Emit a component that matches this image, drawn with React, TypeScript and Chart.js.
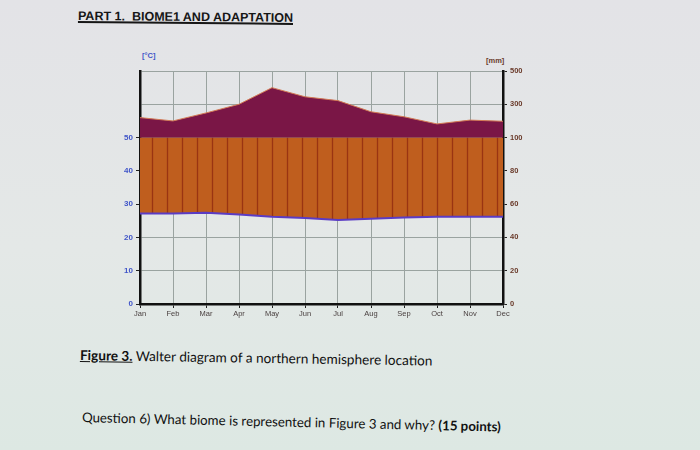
import React, { useEffect, useRef } from "react";
import { Chart, registerables } from "chart.js";

Chart.register(...registerables);

const months = ["Jan", "Feb", "Mar", "Apr", "May", "Jun", "Jul", "Aug", "Sep", "Oct", "Nov", "Dec"];
const temperatureC = [27.2, 27.2, 27.4, 26.9, 26.2, 25.8, 25.2, 25.6, 26.0, 26.2, 26.2, 26.2];
const precipitationMm = [220, 200, 248, 300, 400, 345, 322, 255, 225, 182, 205, 198];
const leftTickMax = 50;

// Walter scale: 10 °C = 20 mm up to 100 mm, above that 10 units = 200 mm
const mmToUnits = (mm: number) => (mm <= 100 ? mm / 2 : 50 + (mm - 100) / 20);
const unitsToMm = (u: number) => (u <= 50 ? u * 2 : 100 + (u - 50) * 20);

export default function App() {
  const ref = useRef<HTMLCanvasElement | null>(null);

  useEffect(() => {
    if (!ref.current) return;
    const pc = document.createElement("canvas");
    pc.width = 15;
    pc.height = 4;
    const pctx = pc.getContext("2d")!;
    pctx.fillStyle = "#bf5e1e";
    pctx.fillRect(0, 0, 15, 4);
    pctx.strokeStyle = "#9a3412";
    pctx.lineWidth = 1.3;
    pctx.beginPath();
    pctx.moveTo(7.5, 0);
    pctx.lineTo(7.5, 4);
    pctx.stroke();
    const ctx = ref.current.getContext("2d")!;
    const pattern = ctx.createPattern(pc, "repeat")!;

    const units = precipitationMm.map(mmToUnits);
    const capped = units.map((u) => Math.min(u, 50));

    const chart = new Chart(ref.current, {
      type: "line",
      data: {
        labels: months,
        datasets: [
          {
            data: temperatureC,
            borderColor: "#5a3cc4",
            borderWidth: 2,
            pointRadius: 0,
            fill: false,
            order: 0,
          },
          {
            data: capped,
            borderWidth: 0,
            borderColor: "rgba(0,0,0,0)",
            pointRadius: 0,
            fill: { target: 0, above: pattern, below: "rgba(0,0,0,0)" } as any,
            order: 2,
          },
          {
            data: units,
            borderColor: "#d27a55",
            borderWidth: 1,
            backgroundColor: "#7a1646",
            pointRadius: 0,
            fill: { value: 50 } as any,
            order: 1,
          },
        ],
      },
      options: {
        animation: false,
        responsive: false,
        maintainAspectRatio: false,
        layout: { padding: { top: 21, left: 0, right: 0, bottom: 0 } },
        plugins: { legend: { display: false }, tooltip: { enabled: false } },
        scales: {
          x: {
            type: "category",
            offset: false,
            grid: {
              offset: false,
              color: "#9aa3a0",
              lineWidth: 1,
              tickLength: 4,
              tickColor: "#222",
            },
            border: { color: "#111", width: 2.5 },
            ticks: { color: "#4a4040", font: { size: 7.5, family: "Liberation Sans" }, padding: 1, maxRotation: 0, autoSkip: false },
            afterFit: (s: any) => {
              s.height = 21;
            },
          },
          y: {
            position: "left",
            min: 0,
            max: 70,
            ticks: {
              stepSize: 10,
              color: "#4055c8",
              font: { size: 8, family: "Liberation Sans", weight: "bold" },
              padding: 3,
              callback: (v: any) => (Number(v) <= leftTickMax ? String(v) : ""),
            },
            grid: {
              color: "#9aa3a0",
              lineWidth: 1,
              tickLength: 4,
              tickColor: (c: any) => (c.tick && c.tick.value <= leftTickMax ? "#222" : "rgba(0,0,0,0)"),
            },
            border: { color: "#111", width: 2.5 },
            afterFit: (s: any) => {
              s.width = 40;
            },
          },
          y2: {
            position: "right",
            min: 0,
            max: 70,
            ticks: {
              stepSize: 10,
              color: "#6a3a2a",
              font: { size: 7.5, family: "Liberation Sans", weight: "bold" },
              padding: 3,
              callback: (v: any) => String(unitsToMm(Number(v))),
            },
            grid: { drawOnChartArea: false, tickLength: 4, tickColor: "#222" },
            border: { color: "#111", width: 2.5 },
            afterFit: (s: any) => {
              s.width = 42;
            },
          },
        },
      },
    });
    return () => chart.destroy();
  }, []);

  return (
    <div
      style={{
        position: "fixed",
        left: 0,
        top: 0,
        width: 700,
        height: 450,
        overflow: "hidden",
        background: "linear-gradient(180deg, #e3e3e7 0%, #e4e8e7 55%, #dde8e3 100%)",
      }}
    >
      <div
        style={{
          position: "absolute",
          left: 78,
          top: 9,
          fontFamily: "Liberation Sans, Arial, sans-serif",
          fontWeight: 700,
          fontSize: 12.5,
          color: "#161616",
          textDecoration: "underline",
          textDecorationThickness: 2,
          whiteSpace: "pre",
          transform: "rotate(0.5deg)",
          transformOrigin: "left center",
        }}
      >
        PART 1.  BIOME1 AND ADAPTATION
      </div>
      <div style={{ position: "absolute", left: 142, top: 51, fontFamily: "Liberation Sans", fontSize: 7.5, fontWeight: 700, color: "#4055c8" }}>[°C]</div>
      <div style={{ position: "absolute", left: 486, top: 56, fontFamily: "Liberation Sans", fontSize: 7.5, fontWeight: 700, color: "#6a3a2a" }}>[mm]</div>
      <canvas ref={ref} width={445} height={275} style={{ position: "absolute", left: 100, top: 50, width: 445, height: 275 }} />
      <div
        style={{
          position: "absolute",
          left: 80,
          top: 347,
          fontFamily: "Lato, sans-serif",
          fontSize: 13.6,
          color: "#111",
          whiteSpace: "pre",
          transform: "rotate(0.9deg)",
          transformOrigin: "left center",
        }}
      >
        <span style={{ fontWeight: 700, textDecoration: "underline" }}>Figure 3.</span> Walter diagram of a northern hemisphere location
      </div>
      <div
        style={{
          position: "absolute",
          left: 82,
          top: 409,
          fontFamily: "Lato, sans-serif",
          fontSize: 13.3,
          color: "#111",
          whiteSpace: "pre",
          transform: "rotate(1.3deg)",
          transformOrigin: "left center",
        }}
      >
        Question 6) What biome is represented in Figure 3 and why? <span style={{ fontWeight: 700 }}>(15 points)</span>
      </div>
    </div>
  );
}
